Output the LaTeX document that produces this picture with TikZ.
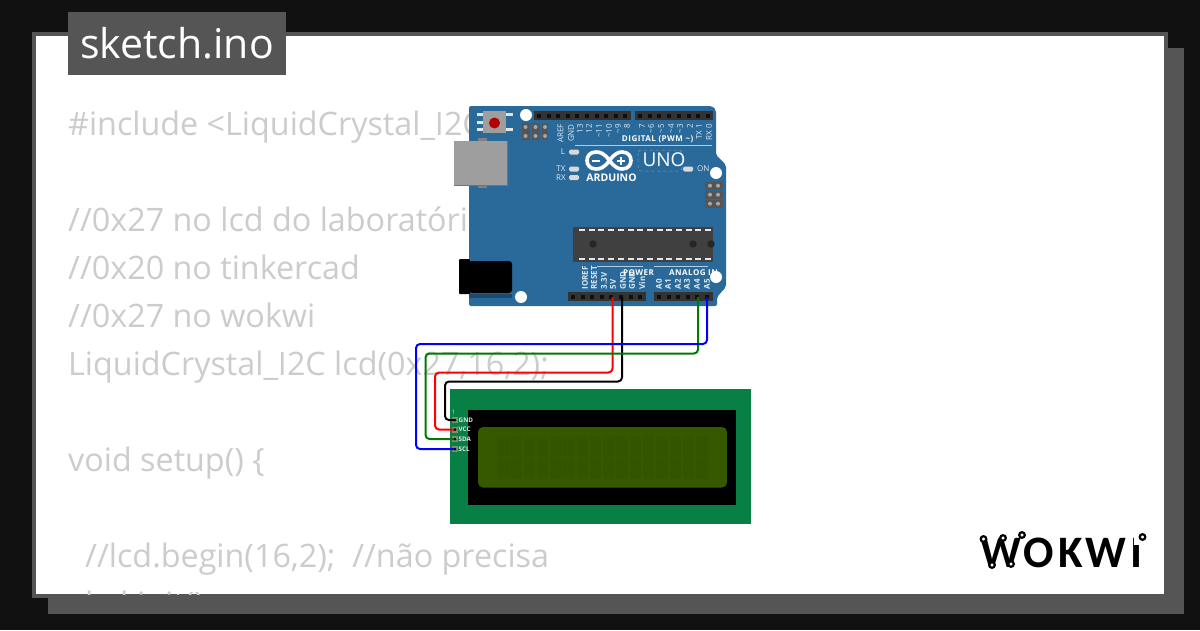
\documentclass[tikz,border=0pt]{standalone}
\usepackage{fontspec}
\setmainfont{Open Sans}
\newfontfamily\logofont[LetterSpace=8]{Carlito}
\newfontfamily\spacedfont[LetterSpace=6]{Open Sans}
\usetikzlibrary{calc}
\definecolor{bgdark}{HTML}{111111}
\definecolor{framegrey}{HTML}{555555}
\definecolor{codegrey}{HTML}{CCCCCC}
\definecolor{boardblue}{HTML}{2A6A9A}
\definecolor{headerdark}{HTML}{333333}
\definecolor{pcbgreen}{HTML}{087F45}
\definecolor{lcdscreen}{HTML}{365900}
\definecolor{lcdcell}{HTML}{335500}
\definecolor{wgreen}{HTML}{007A00}
\definecolor{lcdpin}{HTML}{7F8F6A}
\tikzset{
  x=1pt,y=-1pt,
  codeline/.style={anchor=base west,inner sep=0pt,text=codegrey,font=\fontsize{32.3}{38}\selectfont},
  boardtxt/.style={inner sep=0pt,text=white!85!boardblue,font=\fontsize{8}{9}\selectfont},
  pinv/.style={boardtxt,rotate=90,anchor=east},
  pinu/.style={boardtxt,rotate=90,anchor=west},
  headtxt/.style={inner sep=0pt,text=white,font=\spacedfont\bfseries\fontsize{8}{9}\selectfont},
  hole/.style={fill=white},
  led/.style={fill=white!85!black,rounded corners=1.5pt},
  wire/.style={line width=2pt,rounded corners=4pt},
  lcdlabel/.style={anchor=west,inner sep=0pt,text=white!90!black,font=\bfseries\fontsize{6.3}{7}\selectfont},
  logodot/.style={draw=black,line width=2.2pt,fill=white},
}
\begin{document}
\begin{tikzpicture}
\useasboundingbox (0,0) rectangle (1200,630);
\fill[bgdark] (0,0) rectangle (1200,630);
\fill[framegrey] (48,48) rectangle (1184,614);
\fill[framegrey] (32,32) rectangle (1168,598);
\fill[white] (36,36) rectangle (1164,594);
% code
\begin{scope}
\clip (36,36) rectangle (1164,594);
\node[codeline] (c1) at (68,135.7) {\#include <LiquidCrystal\_I2C.h>};
\node[codeline] (c2) at (68,231.7) {//0x27 no lcd do laboratório};
\node[codeline] (c3) at (68,279.7) {//0x20 no tinkercad};
\node[codeline] (c4) at (68,327.7) {//0x27 no wokwi};
\node[codeline] (c5) at (68,375.7) {LiquidCrystal\_I2C lcd(0x27,16,2);};
\node[codeline] (c6) at (68,471.7) {void setup() \{};
\node[codeline] (c7) at (85,567.7) {//lcd.begin(16,2);\ \ //não precisa};
\node[codeline] (c8) at (85,615.7) {lcd.init();};
\end{scope}
% title
\fill[framegrey] (68,12) rectangle (286,75);
\node[anchor=base,inner sep=0pt,text=white,font=\fontsize{41}{48}\selectfont] (title) at (177,58) {sketch.ino};
% board
\fill[boardblue,rounded corners=2pt] (469,106) -- (712,106) -- (716,110) -- (716,155) -- (726,165) -- (726,287) -- (717,297) -- (717,306) -- (469,306) -- cycle;
% top headers
\fill[headerdark] (534,111) rectangle (631,120);
\fill[headerdark] (635,111) rectangle (713,120);
\foreach \i in {0,...,9} \fill[black!70!headerdark] ({539+\i*9.6-2},113.5) rectangle ++(4,4);
\foreach \i in {0,...,7} \fill[black!70!headerdark] ({640+\i*9.7-2},113.5) rectangle ++(4,4);
% bottom headers
\fill[headerdark] (568,292) rectangle (646,301);
\fill[headerdark] (654,292) rectangle (713,301);
\foreach \i in {0,...,7} \fill[black!70!headerdark] ({573+\i*9.6-2},294.5) rectangle ++(4,4);
\foreach \i in {0,...,5} \fill[black!70!headerdark] ({659+\i*9.6-2},294.5) rectangle ++(4,4);
% reset
\fill[white!90!black] (477,113) rectangle (513,116);
\fill[white!90!black] (477,120.5) rectangle (490,123.5);
\fill[white!90!black] (477,128) rectangle (513,131);
\fill[white!62!black] (483,111) rectangle (506,133);
\fill[red!70!black] (494.5,123) circle (5.5pt);
% ICSP
\fill[framegrey] (522,123) rectangle (530,140);
\fill[framegrey] (531.5,123) rectangle (539.5,140);
\fill[framegrey] (541.5,123) rectangle (548,140);
\foreach \x in {525.5,535.5,545}{\fill[white!65!black] (\x,127) circle (2pt);\fill[white!65!black] (\x,136) circle (2pt);}
\foreach \y in {182,191,200}{\fill[framegrey] (705,\y) rectangle (723,{\y+7.5});
 \fill[white!65!black] (710,{\y+3.7}) circle (2pt);\fill[white!65!black] (718,{\y+3.7}) circle (2pt);}
% USB
\fill[white!50!black] (478,138) rectangle (487,141);
\fill[white!50!black] (478,186) rectangle (487,188);
\fill[white!62!black] (453.5,141) rectangle (508,186);
\fill[white!45!black] (506.5,141) rectangle (508,186);
\fill[white!45!black] (453.5,185) rectangle (508,186);
% jack
\fill[boardblue!70!black] (469,294) rectangle (512,298);
\fill[black,rounded corners=1pt] (459,259) rectangle (470,294);
\fill[black,rounded corners=3pt] (469,261) rectangle (512,293);
% IC
\fill[black!75!white] (573,227) rectangle (713,262);
\foreach \i in {0,...,13}{
 \fill[white!90!black] ({579+\i*9.7},229) rectangle ++(6,2);
 \fill[white!90!black] ({579+\i*9.7},258) rectangle ++(6,2);}
\fill[black!85!white] (593,244) circle (3.7pt);
\fill[black!85!white] (693,244) circle (3.7pt);
\fill[black!85!white] (711,244) circle (3.7pt);
% holes
\fill[hole] (526,115) circle (6pt);
\fill[hole] (716,173) circle (6pt);
\fill[hole] (521,297) circle (6pt);
% top labels
\foreach \x/\t in {560.5/AREF,571/GND,580/13,589/12,599/{\string~11},609/{\string~10},618/{\string~9},627/8,642/7,651/{\string~6},661/{\string~5},671/{\string~4},680/{\string~3},690/2,699/{TX 1},709/{RX 0}}
  \node[pinv] at (\x,124) {\t};
\node[headtxt,anchor=east] (digital) at (693.5,139.5) {DIGITAL (PWM \string~)};
\draw[white!65!boardblue,line width=.8pt] (575,145.5) -- (712,145.5);
% LEDs
\node[boardtxt] (ledL) at (563,152) {L};
\fill[led] (569,149.5) rectangle (579,154.5);
\node[boardtxt] (ledT) at (561,169) {TX};
\fill[led] (569,166.5) rectangle (579,171.5);
\node[boardtxt] (ledR) at (561,177.5) {RX};
\fill[led] (569,175) rectangle (579,180);
\fill[led] (683,166.5) rectangle (693,171.5);
\node[boardtxt,anchor=west] (ledON) at (697,169) {ON};
% arduino logo
\draw[white,line width=3.6pt] (609.5,160.5) .. controls (604,153) and (600,152) .. (596,152) .. controls (590,152) and (587,156) .. (587,160.5) .. controls (587,165) and (590,169) .. (596,169) .. controls (600,169) and (604,168) .. (609.5,160.5) .. controls (615,153) and (619,152) .. (622,152) .. controls (628,152) and (631,156) .. (631,160.5) .. controls (631,165) and (628,169) .. (622,169) .. controls (619,169) and (615,168) .. (609.5,160.5) -- cycle;
\fill[white] (592,159.5) rectangle (600,161.5);
\fill[white] (617,159.5) rectangle (625,161.5);
\fill[white] (620,156.5) rectangle (622,164.5);
\node[inner sep=0pt,text=white,font=\bfseries\fontsize{10.5}{12}\selectfont] (ardu) at (611.5,178) {ARDUINO};
\draw[boardblue!65!white,line width=.5pt,dashed,rounded corners=3pt] (638,150) rectangle (682,171);
\node[inner sep=0pt,text=white,font=\fontsize{19}{22}\selectfont] (uno) at (664,160) {UNO};
% bottom labels
\foreach \x/\t in {585/IOREF,594/RESET,604/3.3V,613/5V,623/GND,632/GND,642/Vin,659/A0,668/A1,678/A2,687/A3,697/A4,707/A5}
  \node[pinu,font=\bfseries\fontsize{8}{9}\selectfont] at (\x,289.5) {\t};
\draw[white!65!boardblue,line width=.8pt] (597,266) -- (643,266);
\draw[white!65!boardblue,line width=.8pt] (654,266) -- (708,266);
\node[headtxt,anchor=west] (power) at (623,272.5) {POWER};
\node[headtxt,anchor=west] (analog) at (669,272.5) {ANALOG IN};
\fill[hole] (716,277) circle (6pt);
% LCD
\fill[pcbgreen] (450,389) rectangle (751,524);
\fill[black] (468,410) rectangle (736,505);
\fill[lcdscreen,rounded corners=5pt] (478,427) rectangle (727,487.5);
\foreach \i in {0,...,15}{
 \fill[lcdcell] ({497+\i*13.27},436) rectangle ++(11.5,20.5);
 \fill[lcdcell] ({497+\i*13.27},458) rectangle ++(11.5,20.5);}
\node[inner sep=0pt,text=white!85!black,font=\fontsize{6}{7}\selectfont] (one) at (453.5,412) {1};
\foreach \n/\y/\t in {g/420/GND,v/429.5/VCC,d/439/SDA,c/449/SCL}{
 \fill[lcdpin] ({454.5-3},{\y-3}) rectangle ++(6,6);
 \coordinate (lcd\n) at (455,\y);
 \node[lcdlabel] at (458.5,\y) {\t};}
% wires
\coordinate (p5v) at (612.5,297);
\coordinate (pgnd) at (622,297);
\coordinate (pa4) at (698,297);
\coordinate (pa5) at (707,297);
\draw[wire,black] (pgnd) |- (445,381.5) |- (lcdg);
\draw[wire,red] (p5v) |- (435,372.5) |- (lcdv);
\draw[wire,wgreen] (pa4) |- (425.5,353.5) |- (lcdd);
\draw[wire,blue] (pa5) |- (416,344) |- (lcdc);
\foreach \n in {g,v,d,c} \fill[black] (lcd\n) circle (1.5pt);
% WOKWI logo
\node[anchor=base west,inner sep=0pt,text=black,font=\logofont\bfseries\fontsize{45}{50}\selectfont] (logo) at (980,567.5) {WOKWI};
\fill[white] (1134,532) rectangle (1150,544.5);
\foreach \x/\y in {983.5/539,1003/538,1022/535,992/565,1011/564,1142.5/537}
  \draw[logodot] (\x,\y) circle (2.8pt);
\end{tikzpicture}
\end{document}
